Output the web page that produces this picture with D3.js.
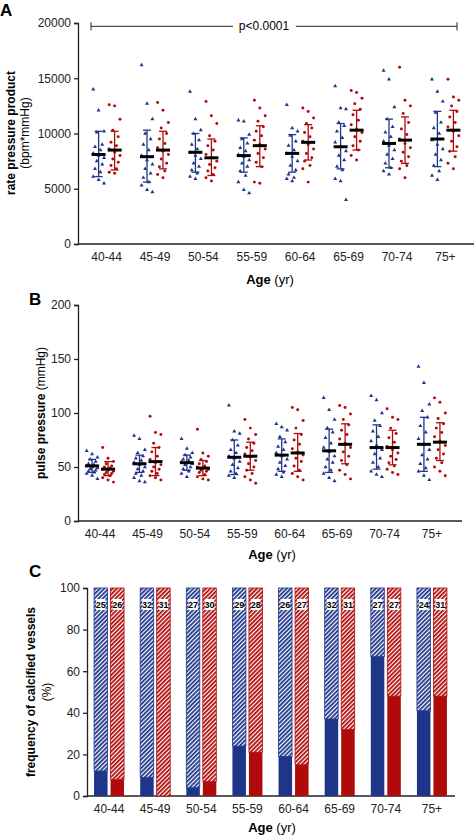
<!DOCTYPE html>
<html>
<head>
<meta charset="utf-8">
<script src="https://cdn.jsdelivr.net/npm/d3@7"></script>
<style>
  body { margin: 0; background: #fff; }
  svg { display: block; font-family: "Liberation Sans", Arial, sans-serif; }
  .axis path, .axis line { stroke: #222; stroke-width: 1.3; }
  .axis text { font-size: 12px; fill: #222; }
</style>
</head>
<body>
<div id="chart"></div>
<script>
const ages = ["40-44", "45-49", "50-54", "55-59", "60-64", "65-69", "70-74", "75+"];
const BLUE = "#1f358a";
const RED = "#b00b0b";

// Panel A: rate pressure product, mean and SD range per group
const rppMeanBlue = [8100, 7900, 8300, 8000, 8200, 8800, 9100, 9500];
const rppLowBlue = [6100, 5600, 6500, 6500, 6500, 6800, 6900, 7000];
const rppHighBlue = [10200, 10300, 10000, 9600, 9900, 10900, 11300, 12000];
const rppMeanRed = [8500, 8500, 7800, 8900, 9200, 10300, 9400, 10300];
const rppLowRed = [6700, 6800, 6200, 7000, 7600, 8500, 7300, 8400];
const rppHighRed = [10200, 10200, 9500, 10700, 10800, 12100, 11500, 12100];

const rppPointsBlue = [
  [14000, 12100, 10200, 10100, 9000, 8800, 8500, 8200, 8000, 7800, 7500, 7200, 6800, 6500, 6100, 5800, 5500],
  [16200, 12700, 11300, 10000, 9500, 9000, 8500, 8000, 7600, 7200, 6800, 6400, 6000, 5600, 5300, 4900, 4700],
  [13800, 11300, 10300, 10000, 9400, 9000, 8600, 8300, 8000, 7700, 7300, 7000, 6700, 6400, 6100, 5900],
  [11200, 11100, 9900, 9500, 9100, 8700, 8400, 8100, 7900, 7600, 7300, 7000, 6600, 6200, 5600, 4900, 4600],
  [12600, 10500, 10200, 9800, 9300, 8900, 8500, 8200, 7900, 7500, 7100, 6700, 6300, 6000, 5900, 5700],
  [14300, 12300, 12200, 11000, 10700, 10200, 9600, 9200, 8800, 8400, 8000, 7600, 7000, 6700, 5900, 5700, 4000],
  [15700, 14900, 12400, 11300, 10600, 10100, 9700, 9300, 8900, 8500, 8100, 7700, 7300, 6900, 6600, 6300],
  [14900, 13800, 12900, 11900, 11000, 10500, 10000, 9400, 9000, 8600, 8100, 7600, 7100, 6600, 6200, 5800]
];
const rppPointsRed = [
  [12600, 12500, 11300, 10300, 9700, 9200, 8900, 8600, 8300, 8000, 7700, 7400, 7100, 6800, 6500, 6400],
  [12800, 12100, 11000, 10500, 10000, 9500, 9100, 8700, 8400, 8100, 7700, 7300, 7000, 6600, 6300, 6000],
  [12900, 11600, 10900, 9800, 9300, 8900, 8500, 8100, 7800, 7500, 7200, 6900, 6600, 6300, 6000, 5700],
  [13000, 12300, 11600, 11100, 10600, 10200, 9800, 9400, 9000, 8600, 8200, 7800, 7400, 7000, 5600, 5500],
  [12300, 12000, 11400, 10900, 10500, 10100, 9700, 9300, 9000, 8600, 8200, 7800, 7500, 7100, 6800, 5600],
  [13900, 13700, 13200, 12700, 12200, 11700, 11200, 10800, 10400, 10100, 9700, 9300, 8900, 8500, 8000, 7600],
  [16000, 13000, 12500, 11800, 11000, 10400, 9900, 9500, 9100, 8700, 8300, 7900, 7500, 7100, 6800, 6000],
  [14900, 13300, 13000, 12500, 12000, 11500, 11000, 10600, 10200, 9800, 9300, 8800, 8400, 7900, 7300, 6800]
];

// Panel B: pulse pressure
const ppMeanBlue = [51, 53, 54, 59, 61, 65, 68, 71];
const ppLowBlue = [45, 45, 47, 43, 46, 45, 48, 46];
const ppHighBlue = [57, 61, 61, 75, 76, 85, 89, 96];
const ppMeanRed = [48, 55, 49, 60, 63, 71, 68, 73];
const ppLowRed = [42, 42, 42, 47, 46, 53, 52, 56];
const ppHighRed = [55, 68, 56, 73, 81, 90, 84, 91];

const ppPointsBlue = [
  [65, 62, 59, 57, 55, 53, 52, 51, 50, 49, 48, 47, 46, 45, 44, 42, 39],
  [79, 76, 66, 63, 60, 58, 56, 54, 52, 50, 48, 46, 44, 42, 40, 37, 36],
  [76, 67, 63, 61, 59, 57, 56, 55, 54, 53, 52, 50, 48, 46, 44, 41],
  [107, 83, 81, 75, 70, 66, 63, 60, 58, 55, 52, 49, 46, 44, 42, 40],
  [90, 87, 84, 78, 73, 69, 66, 63, 60, 57, 54, 51, 48, 45, 43, 41],
  [114, 103, 94, 86, 82, 77, 72, 68, 64, 60, 57, 54, 50, 47, 44, 40, 37],
  [116, 112, 100, 93, 88, 83, 78, 74, 70, 66, 62, 58, 54, 50, 46, 43, 41],
  [143, 128, 108, 102, 96, 88, 82, 76, 71, 66, 61, 57, 53, 49, 46, 42, 38]
];
const ppPointsRed = [
  [68, 58, 55, 53, 51, 50, 49, 48, 47, 46, 45, 44, 43, 42, 40, 38, 36],
  [97, 82, 80, 72, 68, 64, 60, 57, 54, 52, 50, 48, 46, 44, 42, 40, 38],
  [85, 63, 60, 57, 55, 53, 51, 50, 49, 48, 47, 46, 45, 43, 41, 39, 38],
  [94, 86, 80, 76, 72, 68, 65, 62, 59, 56, 53, 50, 47, 44, 41, 38, 35],
  [105, 103, 93, 86, 80, 75, 71, 67, 64, 61, 58, 55, 51, 47, 44, 41, 38],
  [107, 105, 99, 94, 89, 84, 80, 76, 72, 68, 64, 60, 56, 52, 47, 43, 39],
  [104, 96, 94, 86, 81, 77, 73, 69, 66, 63, 60, 57, 54, 51, 48, 45, 43],
  [114, 110, 100, 95, 90, 86, 82, 78, 74, 70, 66, 62, 58, 54, 50, 46, 42]
];

// Panel C: frequency of calcified vessels (%) and group sizes
const calcBlue = [12, 9, 4, 24, 19, 37, 67, 41];
const calcRed = [8, 0, 7, 21, 15, 32, 48, 48];
const nBlue = [25, 32, 27, 29, 26, 32, 27, 24];
const nRed = [26, 31, 30, 28, 27, 31, 27, 31];

const W = 474, H = 836;
const svg = d3.select("#chart").append("svg").attr("width", W).attr("height", H);

const defs = svg.append("defs");
[["hatchBlue", BLUE], ["hatchRed", RED]].forEach(([id, c]) => {
  const p = defs.append("pattern").attr("id", id).attr("patternUnits", "userSpaceOnUse")
    .attr("width", 3).attr("height", 3).attr("patternTransform", "rotate(45)");
  p.append("rect").attr("width", 3).attr("height", 3).attr("fill", "#fff");
  p.append("rect").attr("width", 1.8).attr("height", 3).attr("fill", c);
});

function panelLabel(x, y, t) {
  svg.append("text").attr("x", x).attr("y", y).attr("font-size", 17).attr("font-weight", 700).text(t);
}
function ageLabel(cx, y) {
  const t = svg.append("text").attr("x", cx).attr("y", y).attr("text-anchor", "middle").attr("font-size", 13);
  t.append("tspan").attr("font-weight", 700).text("Age ");
  t.append("tspan").text("(yr)");
}

function scatterPanel(o) {
  const x = d3.scaleBand().domain(ages).range([o.x0, o.x1]).paddingInner(0).paddingOuter(0.05);
  const y = d3.scaleLinear().domain([0, o.ymax]).range([o.yb, o.yt]);
  const g = svg.append("g");
  g.append("g").attr("class", "axis").attr("transform", `translate(${o.ax},0)`)
    .call(d3.axisLeft(y).tickValues(o.ticks).tickSize(4).tickFormat(d3.format("d")));
  g.append("g").attr("class", "axis").attr("transform", `translate(0,${o.yb})`)
    .call(d3.axisBottom(x).tickSize(0).tickPadding(8))
    .call(s => s.select(".domain").attr("d", `M${o.ax},0H${o.xend}`));

  const tri = d3.symbol().type(d3.symbolTriangle).size(7);
  const cir = d3.symbol().type(d3.symbolCircle).size(7);
  const groups = [
    { pts: o.ptsB, mean: o.mB, lo: o.lB, hi: o.hB, c: BLUE, dx: -o.off, sym: tri },
    { pts: o.ptsR, mean: o.mR, lo: o.lR, hi: o.hR, c: RED, dx: o.off, sym: cir }
  ];
  groups.forEach(gr => {
    ages.forEach((a, i) => {
      const cx = x(a) + x.bandwidth() / 2 + gr.dx;
      gr.pts[i].forEach((v, j) => {
        const jit = ((j * 3) % 7 - 3) * 1.8;
        g.append("path").attr("d", gr.sym).attr("fill", gr.c)
          .attr("transform", `translate(${cx + jit},${y(v)})`);
      });
      g.append("line").attr("x1", cx).attr("x2", cx).attr("y1", y(gr.lo[i])).attr("y2", y(gr.hi[i]))
        .attr("stroke", gr.c).attr("stroke-width", 1.3);
      [gr.lo[i], gr.hi[i]].forEach(v => g.append("line").attr("x1", cx - 4).attr("x2", cx + 4)
        .attr("y1", y(v)).attr("y2", y(v)).attr("stroke", gr.c).attr("stroke-width", 1.3));
      g.append("line").attr("x1", cx - 7).attr("x2", cx + 7).attr("y1", y(gr.mean[i])).attr("y2", y(gr.mean[i]))
        .attr("stroke", "#000").attr("stroke-width", 3);
    });
  });
  return { x, y };
}

// Panel A
panelLabel(0, 16, "A");
const A = scatterPanel({ x0: 80, x1: 472, xend: 474, ax: 78, yt: 23, yb: 244, ymax: 20000,
  ticks: [0, 5000, 10000, 15000, 20000], off: 8,
  ptsB: rppPointsBlue, ptsR: rppPointsRed, mB: rppMeanBlue, lB: rppLowBlue, hB: rppHighBlue,
  mR: rppMeanRed, lR: rppLowRed, hR: rppHighRed });
{
  const yb = A.y(19700), x1 = 91, x2 = 457;
  svg.append("line").attr("x1", x1).attr("x2", 233).attr("y1", yb).attr("y2", yb).attr("stroke", "#222");
  svg.append("line").attr("x1", 296).attr("x2", x2).attr("y1", yb).attr("y2", yb).attr("stroke", "#222");
  [x1, x2].forEach(xx => svg.append("line").attr("x1", xx).attr("x2", xx).attr("y1", yb - 4).attr("y2", yb + 4).attr("stroke", "#222"));
  svg.append("text").attr("x", 264).attr("y", yb + 4).attr("text-anchor", "middle").attr("font-size", 12).text("p<0.0001");
}
svg.append("text").attr("transform", "translate(15,133) rotate(-90)").attr("text-anchor", "middle")
  .attr("font-size", 12).attr("font-weight", 700).text("rate pressure product");
svg.append("text").attr("transform", "translate(29,133) rotate(-90)").attr("text-anchor", "middle")
  .attr("font-size", 12).text("(bpm*mmHg)");
ageLabel(270, 284);

// Panel B
panelLabel(29, 305, "B");
scatterPanel({ x0: 74, x1: 458, xend: 462, ax: 78, yt: 305, yb: 521, ymax: 200,
  ticks: [0, 50, 100, 150, 200], off: 8,
  ptsB: ppPointsBlue, ptsR: ppPointsRed, mB: ppMeanBlue, lB: ppLowBlue, hB: ppHighBlue,
  mR: ppMeanRed, lR: ppLowRed, hR: ppHighRed });
{
  const t = svg.append("text").attr("transform", "translate(45,413) rotate(-90)").attr("text-anchor", "middle").attr("font-size", 12);
  t.append("tspan").attr("font-weight", 700).text("pulse pressure ");
  t.append("tspan").text("(mmHg)");
}
ageLabel(272, 559);

// Panel C
panelLabel(29, 577, "C");
{
  const x = d3.scaleBand().domain(ages).range([86, 455]).paddingInner(0.08).paddingOuter(0.04);
  const y = d3.scaleLinear().domain([0, 100]).range([796, 588]);
  svg.append("g").attr("class", "axis").attr("transform", "translate(87,0)")
    .call(d3.axisLeft(y).tickValues([0, 20, 40, 60, 80, 100]).tickSize(4));
  svg.append("g").attr("class", "axis").attr("transform", "translate(0,796)")
    .call(d3.axisBottom(x).tickSize(0).tickPadding(8))
    .call(s => s.select(".domain").attr("d", "M87,0H455"));
  const bw = 13.5;
  const sets = [
    { vals: calcBlue, n: nBlue, c: BLUE, hatch: "url(#hatchBlue)", dx: -bw - 1.5 },
    { vals: calcRed, n: nRed, c: RED, hatch: "url(#hatchRed)", dx: 1.5 }
  ];
  sets.forEach(s => {
    ages.forEach((a, i) => {
      const bx = x(a) + x.bandwidth() / 2 + s.dx;
      svg.append("rect").attr("x", bx).attr("width", bw).attr("y", y(100)).attr("height", y(s.vals[i]) - y(100))
        .attr("fill", s.hatch).attr("stroke", s.c).attr("stroke-width", 0.8);
      svg.append("rect").attr("x", bx).attr("width", bw).attr("y", y(s.vals[i])).attr("height", y(0) - y(s.vals[i]))
        .attr("fill", s.c);
      svg.append("rect").attr("x", bx + 2).attr("width", bw - 4).attr("y", 599).attr("height", 11).attr("fill", "#fff");
      svg.append("text").attr("x", bx + bw / 2).attr("y", 608).attr("text-anchor", "middle")
        .attr("font-size", 9).attr("font-weight", 700).text(s.n[i]);
    });
  });
  svg.append("text").attr("transform", "translate(35,692) rotate(-90)").attr("text-anchor", "middle")
    .attr("font-size", 12).attr("font-weight", 700).text("frequency of calcified vessels");
  svg.append("text").attr("transform", "translate(51,692) rotate(-90)").attr("text-anchor", "middle")
    .attr("font-size", 12).text("(%)");
  ageLabel(272, 832);
}
</script>
</body>
</html>
